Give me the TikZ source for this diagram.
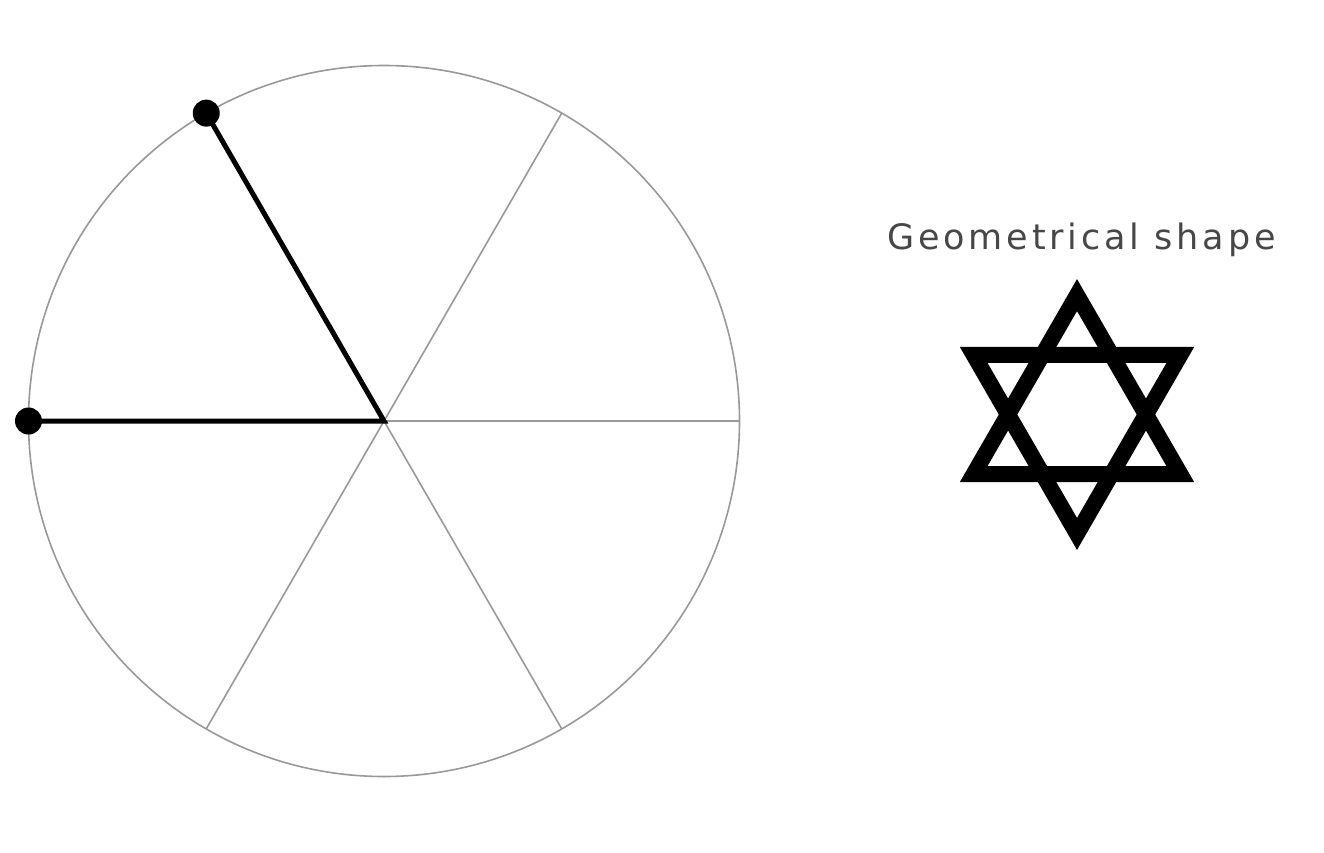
\documentclass[tikz,border=0pt]{standalone}
\usepackage{fontspec}
\setmainfont{DejaVu Sans}
\newfontfamily\labelfont[LetterSpace=11]{DejaVu Sans}
\usetikzlibrary{calc}
\begin{document}
\begin{tikzpicture}[x=1pt,y=-1pt,
  spoke/.style={draw=black!40, line width=1.6pt},
  arm/.style={draw=black, line width=5pt},
  dot/.style={circle, fill=black, inner sep=0pt, minimum size=27pt},
  star/.style={draw=black, line width=16pt, miter limit=10, line join=miter},
  label/.style={text=black!72, font=\labelfont\fontsize{35}{40}\selectfont, anchor=base}]
\useasboundingbox (0,0) rectangle (1324,852);
\fill[white] (0,0) rectangle (1324,852);
\coordinate (O) at (384,421);
\draw[spoke] (O) circle[radius=355.5pt];
\foreach \a in {0,60,...,300} {
  \draw[spoke] (O) -- ++({355.5*cos(\a)},{-355.5*sin(\a)});
}
\node[dot] (p1) at ({384+355.5*cos(120)},{421-355.5*sin(120)}) {};
\node[dot] (p2) at ({384-355.5},421) {};
\draw[arm, line join=miter] (p1.center) -- (O) -- (p2.center);
% star
\coordinate (S) at (1077,414.5);
\draw[star] ($(S)+(0,-119.4)$) -- ++({-103.4},179.1) -- ++(206.8,0) -- cycle;
\draw[star] ($(S)+(0,119.4)$) -- ++({-103.4},-179.1) -- ++(206.8,0) -- cycle;
\node[label] (t) at (1081.5,249) {Geometrical shape};
\end{tikzpicture}
\end{document}
